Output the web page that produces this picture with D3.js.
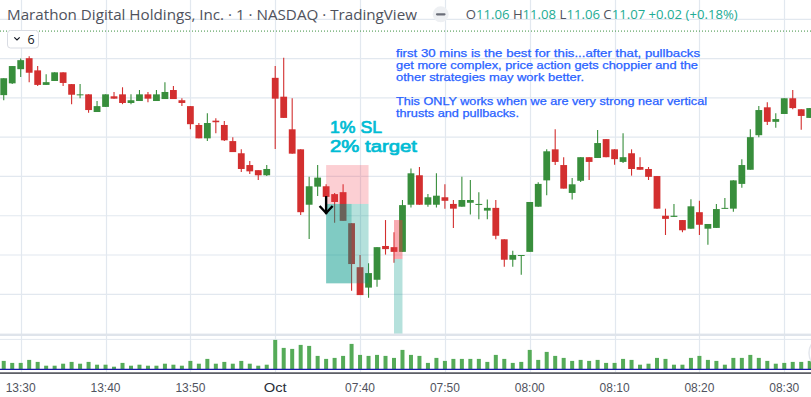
<!DOCTYPE html>
<html><head><meta charset="utf-8">
<script src="https://cdn.jsdelivr.net/npm/d3@7"></script>
<style>body{margin:0;background:#fff;overflow:hidden}svg{display:block}</style>
</head><body><svg id="c" width="811" height="397"></svg>
<script>
const times = [
"13:28","13:29","13:30","13:31","13:32","13:33","13:34","13:35","13:36","13:37",
"13:38","13:39","13:40","13:41","13:42","13:43","13:44","13:45","13:46","13:47",
"13:48","13:49","13:50","13:51","13:52","13:53","13:54","13:55","13:56","13:57",
"13:58","13:59","07:30","07:31","07:32","07:33","07:34","07:35","07:36","07:37",
"07:38","07:39","07:40","07:41","07:42","07:43","07:44","07:45","07:46","07:47",
"07:48","07:49","07:50","07:51","07:52","07:53","07:54","07:55","07:56","07:57",
"07:58","07:59","08:00","08:01","08:02","08:03","08:04","08:05","08:06","08:07",
"08:08","08:09","08:10","08:11","08:12","08:13","08:14","08:15","08:16","08:17",
"08:18","08:19","08:20","08:21","08:22","08:23","08:24","08:25","08:26","08:27",
"08:28","08:29","08:30","08:31","08:32","08:33"];
const open = [
10.207,10.237,10.273,10.301,10.270,10.233,10.243,10.265,10.235,10.208,
10.209,10.164,10.177,10.204,10.209,10.187,10.192,10.209,10.192,10.197,
10.220,10.194,10.179,10.131,10.097,10.142,10.131,10.090,10.059,10.029,
10.016,10.003,10.251,10.203,10.120,10.069,9.928,9.974,9.975,9.955,
9.960,9.881,9.769,9.717,9.737,9.823,9.820,9.808,9.928,10.003,
9.928,9.928,9.947,9.930,9.923,9.933,9.928,9.913,9.920,9.840,
9.788,9.798,9.808,9.923,9.990,10.069,10.029,9.958,9.989,10.049,
10.047,10.095,10.069,10.037,10.059,10.024,10.019,10.001,9.900,9.897,
9.889,9.867,9.909,9.867,9.869,9.918,9.918,9.981,10.017,10.105,
10.176,10.139,10.159,10.199,10.171,10.149];
const high = [
10.250,10.281,10.300,10.306,10.281,10.260,10.265,10.265,10.235,10.235,
10.209,10.192,10.209,10.215,10.227,10.209,10.220,10.215,10.220,10.240,
10.230,10.199,10.179,10.136,10.161,10.148,10.141,10.100,10.069,10.039,
10.016,10.029,10.281,10.302,10.199,10.069,9.999,10.029,9.980,9.958,
9.980,9.881,9.800,9.779,9.820,9.889,9.858,9.940,10.020,10.024,
9.955,10.008,9.980,9.940,9.999,9.991,9.960,9.941,9.940,9.840,
9.811,9.800,9.935,9.985,10.069,10.120,10.049,9.996,10.049,10.049,
10.118,10.095,10.069,10.110,10.069,10.049,10.024,10.001,9.918,9.930,
9.889,9.942,9.938,9.879,9.930,9.945,9.990,10.044,10.120,10.179,
10.189,10.161,10.199,10.220,10.171,10.174];
const low = [
10.194,10.235,10.253,10.240,10.230,10.233,10.243,10.230,10.184,10.199,
10.162,10.164,10.177,10.198,10.184,10.184,10.192,10.189,10.192,10.197,
10.197,10.179,10.120,10.097,10.090,10.110,10.090,10.062,10.011,10.006,
9.991,10.001,10.070,10.149,10.058,9.902,9.841,9.950,9.948,9.882,
9.887,9.709,9.698,9.691,9.719,9.801,9.780,9.808,9.921,9.928,
9.923,9.921,9.918,9.869,9.923,9.903,9.891,9.891,9.840,9.770,
9.770,9.750,9.808,9.923,9.952,10.029,9.969,9.941,9.986,9.991,
10.047,10.049,10.030,10.034,10.002,10.017,9.991,9.918,9.851,9.897,
9.858,9.867,9.851,9.826,9.869,9.918,9.910,9.971,10.017,10.100,
10.131,10.124,10.159,10.171,10.119,10.149];
const close = [
10.250,10.281,10.296,10.264,10.233,10.240,10.265,10.238,10.208,10.209,
10.169,10.179,10.209,10.198,10.187,10.194,10.209,10.198,10.209,10.215,
10.197,10.187,10.133,10.097,10.136,10.138,10.092,10.062,10.019,10.013,
10.003,10.019,10.198,10.149,10.058,9.909,9.975,9.997,9.948,9.935,
9.887,9.777,9.698,9.754,9.820,9.815,9.808,9.927,10.008,9.928,
9.947,9.951,9.938,9.918,9.940,9.940,9.930,9.920,9.849,9.788,
9.800,9.800,9.935,9.981,10.064,10.037,9.969,9.980,10.049,10.037,
10.085,10.049,10.044,10.049,10.019,10.017,9.999,9.918,9.892,9.900,
9.863,9.924,9.877,9.879,9.917,9.920,9.990,10.029,10.100,10.169,
10.139,10.146,10.199,10.174,10.154,10.174];
const volume = [
42,32,32,47,37,18,18,28,37,28,
37,23,23,13,32,18,23,18,18,28,
23,18,42,28,52,28,37,28,42,28,
18,23,147,107,102,122,117,67,52,57,
67,127,72,67,72,67,57,97,72,67,
32,57,42,52,52,52,52,37,72,52,
32,37,97,47,87,67,57,42,47,42,
47,32,32,52,47,23,28,57,52,23,
23,57,67,47,42,23,57,57,72,57,
42,28,32,37,37,42];
const tickTimes  = ["13:30","13:40","13:50","07:30","07:40","07:50","08:00","08:10","08:20","08:30"];
const tickLabels = ["13:30","13:40","13:50","Oct","07:40","07:50","08:00","08:10","08:20","08:30"];
const priceGrid = [10.4,10.3,10.2,10.1,10.0,9.9,9.8,9.7];
const positions = [
  {start:"07:36", fillEnd:"07:39", end:"07:41", entry:9.930, stop:10.029, target:9.728, hit:"target"},
  {start:"07:44", fillEnd:"07:45", end:"07:45", entry:9.790, stop:9.889, target:9.594, hit:"stop"}
];
const arrowTime = "07:36", arrowFrom = 9.947, arrowTo = 9.907;
const hLinePrice = 10.370;
const titleText = "Marathon Digital Holdings, Inc. · 1 · NASDAQ · TradingView";
const ohlcParts = [["O","#50535e"],["11.06 ","#22ab94"],["H","#50535e"],["11.08 ","#22ab94"],["L","#50535e"],["11.06 ","#22ab94"],["C","#50535e"],["11.07 +0.02 (+0.18%)","#22ab94"]];
const riskLines = ["1% SL", "2% target"];
const riskWidths = [52, 87];
const noteLines = ["first 30 mins is the best for this...after that, pullbacks",
  "get more complex, price action gets choppier and the",
  "other strategies may work better.", "",
  "This ONLY works when we are very strong near vertical",
  "thrusts and pullbacks."];
const noteWidths = [304,302,188,0,311,123];

const W = 811, H = 397;
const svg = d3.select("#c");
const step = 8.484;
const x = d3.scalePoint().domain(times).range([20.7 - 2*step, 20.7 + 93*step]);
const y = d3.scaleLinear().domain([9.7, 10.4]).range([294.3, 19.3]);
const yv = d3.scaleLinear().domain([0, 150]).range([369.3, 339.3]);
const GRID = "#e2e8ef";
const UP = "#388e3c", DN = "#d32f2f";

svg.append("defs").append("clipPath").attr("id","pp").append("rect")
  .attr("x",0).attr("y",0).attr("width",W).attr("height",333.5);

// grid
const g = svg.append("g");
g.selectAll(".vg").data(tickTimes).join("line")
  .attr("x1",d=>Math.round(x(d))+0.5).attr("x2",d=>Math.round(x(d))+0.5)
  .attr("y1",0).attr("y2",372).attr("stroke",GRID).attr("stroke-width",1.2);
g.selectAll(".hg").data(priceGrid).join("line")
  .attr("x1",0).attr("x2",W).attr("y1",d=>y(d)).attr("y2",d=>y(d))
  .attr("stroke",GRID).attr("stroke-width",1.2);
g.append("line").attr("x1",0).attr("x2",W).attr("y1",339.4).attr("y2",339.4).attr("stroke",GRID).attr("stroke-width",1);
g.append("rect").attr("x",0).attr("y",333.6).attr("width",W).attr("height",2.4).attr("fill","#dfe4eb");

// dotted line
svg.append("line").attr("x1",0).attr("x2",W).attr("y1",y(hLinePrice)).attr("y2",y(hLinePrice))
  .attr("stroke","#3b8f3f").attr("stroke-width",1).attr("stroke-dasharray","1,2");

// candles
const pane = svg.append("g").attr("clip-path","url(#pp)");
const idx = d3.range(times.length);
const col = i => close[i] >= open[i] ? UP : DN;
pane.selectAll(".wick").data(idx).join("line")
  .attr("x1",i=>x(times[i])).attr("x2",i=>x(times[i]))
  .attr("y1",i=>y(high[i])).attr("y2",i=>y(low[i]))
  .attr("stroke",col).attr("stroke-width",1.1);
const bw = 6.8;
pane.selectAll(".body").data(idx).join("rect")
  .attr("x",i=>x(times[i])-bw/2).attr("width",bw)
  .attr("y",i=>y(Math.max(open[i],close[i])))
  .attr("height",i=>Math.max(1, y(Math.min(open[i],close[i]))-y(Math.max(open[i],close[i]))))
  .attr("fill",col);

// position boxes
const LIGHT_R = "rgba(242,54,69,0.24)", LIGHT_G = "rgba(0,150,136,0.29)";
positions.forEach(p => {
  const x0 = x(p.start), x1 = x(p.end), xf = x(p.fillEnd);
  pane.append("rect").attr("x",x0).attr("width",x1-x0).attr("y",y(p.stop)).attr("height",y(p.entry)-y(p.stop)).attr("fill",LIGHT_R);
  pane.append("rect").attr("x",x0).attr("width",x1-x0).attr("y",y(p.entry)).attr("height",y(p.target)-y(p.entry)).attr("fill",LIGHT_G);
  if (p.hit === "target") {
    pane.append("rect").attr("x",x0).attr("width",xf-x0).attr("y",y(p.entry)).attr("height",y(p.target)-y(p.entry)).attr("fill",LIGHT_G);
  } else {
    pane.append("rect").attr("x",x0).attr("width",x1-x0).attr("y",y(p.stop)).attr("height",y(p.entry)-y(p.stop)).attr("fill",LIGHT_R);
  }
});

// arrow
const ax = x(arrowTime);
const arr = svg.append("g").attr("stroke","#000").attr("stroke-width",2.4).attr("fill","none").attr("stroke-linecap","square");
arr.append("line").attr("x1",ax).attr("x2",ax).attr("y1",y(arrowFrom)).attr("y2",y(arrowTo));
arr.append("polyline").attr("points",`${ax-6.5},${y(arrowTo)-7} ${ax},${y(arrowTo)} ${ax+6.5},${y(arrowTo)-7}`).attr("stroke-linecap","butt");

// volume
svg.append("g").selectAll("rect").data(idx).join("rect")
  .attr("x",i=>x(times[i])-2).attr("width",4)
  .attr("y",i=>yv(volume[i])).attr("height",i=>yv(0)-yv(volume[i]))
  .attr("fill","#55ab58");
svg.append("line").attr("x1",0).attr("x2",W).attr("y1",yv(0)).attr("y2",yv(0)).attr("stroke","#1a1aa8").attr("stroke-width",1.3);
svg.append("circle").attr("cx",826).attr("cy",353).attr("r",17).attr("fill","#fff").attr("stroke","#e3e6ec").attr("stroke-width",1.5);

// x axis
svg.append("rect").attr("x",0).attr("y",372.3).attr("width",W).attr("height",1.6).attr("fill","#4d4f57");
const xa = svg.append("g");
tickTimes.forEach((t,k) => {
  const lbl = tickLabels[k];
  const tx = xa.append("text").attr("x",x(t)).attr("y",391.5).attr("text-anchor","middle")
    .attr("font-family","'Liberation Sans', Arial, sans-serif").attr("font-size",13.5)
    .attr("fill", lbl === "Oct" ? "#2a2e39" : "#50535e").text(lbl);
  if (lbl.length === 5) tx.attr("textLength",30).attr("lengthAdjust","spacingAndGlyphs");
  else tx.attr("textLength",23).attr("lengthAdjust","spacingAndGlyphs");
});

// header
svg.append("text").attr("x",7).attr("y",19.5).attr("font-family","'Open Sans', 'Noto Sans', sans-serif")
  .attr("font-size",14.5).attr("fill","#4f525c").attr("textLength",410).attr("lengthAdjust","spacingAndGlyphs").text(titleText);
svg.append("circle").attr("cx",440.7).attr("cy",14.3).attr("r",8).attr("fill","#eef0f3");
svg.append("line").attr("x1",437).attr("x2",444.5).attr("y1",14.3).attr("y2",14.3).attr("stroke","#6a6d78").attr("stroke-width",2.2).attr("stroke-linecap","round");
const oh = svg.append("text").attr("x",465.7).attr("y",19).attr("font-family","'Open Sans', 'Noto Sans', sans-serif")
  .attr("font-size",12.5).attr("textLength",272).attr("lengthAdjust","spacingAndGlyphs");
ohlcParts.forEach(([t,c]) => oh.append("tspan").attr("fill",c).text(t));

// legend toggle box
svg.append("rect").attr("x",7.5).attr("y",30.5).attr("width",31).attr("height",17.5).attr("rx",3)
  .attr("fill","#fff").attr("stroke","#d9dce3");
svg.append("polyline").attr("points","14.3,37.3 17,40 19.7,37.3").attr("fill","none").attr("stroke","#131722").attr("stroke-width",1.2);
svg.append("text").attr("x",27.5).attr("y",43.6).attr("font-family","'Open Sans', sans-serif").attr("font-size",12.5).attr("fill","#131722").text("6");

// annotations (tight-metric font so line boxes do not overlap)
const rt = svg.append("text").attr("font-family","'Liberation Sans', Arial, sans-serif").attr("font-size",16.3)
  .attr("fill","#00bcd4").attr("stroke","#00bcd4").attr("stroke-width",0.7);
riskLines.forEach((t,k) => rt.append("tspan").attr("x",330).attr("y",133.3 + k*18.4)
  .attr("textLength",riskWidths[k]).attr("lengthAdjust","spacingAndGlyphs").text(t));
const nt = svg.append("text").attr("font-family","'Liberation Sans', Arial, sans-serif")
  .attr("font-size",10.6).attr("fill","#2962ff").attr("stroke","#2962ff").attr("stroke-width",0.25);
noteLines.forEach((t,k) => {
  if (!t) return;
  nt.append("tspan").attr("x",396).attr("y",57.3 + k*12)
    .attr("textLength",noteWidths[k]).attr("lengthAdjust","spacingAndGlyphs").text(t);
});
</script></body></html>
